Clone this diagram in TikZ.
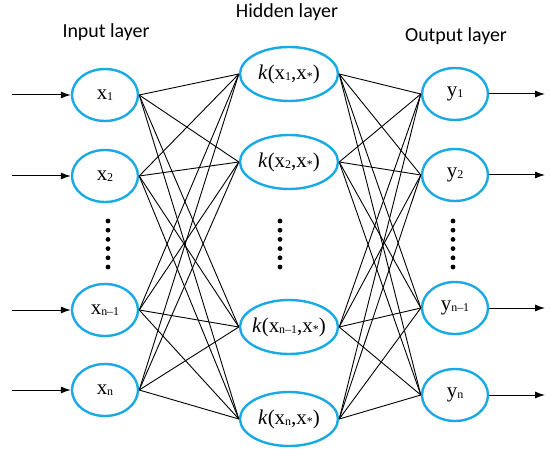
\documentclass[tikz,border=0pt]{standalone}
\usepackage{fontspec}
\setmainfont{Liberation Serif}
\newfontfamily\layerfont{Carlito}
\usetikzlibrary{shapes.geometric,arrows.meta}
\definecolor{nblue}{RGB}{25,170,230}
\newcommand\lsub[1]{\raisebox{-1bp}{\fontsize{12}{12}\selectfont #1}}
\begin{document}
\begin{tikzpicture}[x=1bp,y=-1bp,
  neuron/.style={ellipse, draw=nblue, line width=2.4bp, inner sep=0pt,
     minimum width=66bp, minimum height=52bp},
  hneuron/.style={neuron, minimum width=98bp, minimum height=54bp},
  every label/.append style={font=\fontsize{21}{23}\selectfont, inner sep=0pt},
  link/.style={draw=black, line width=0.9bp},
  arr/.style={draw=black, line width=1bp, -{Latex[length=10bp,width=7bp]}},
  layer/.style={font=\layerfont\fontsize{20}{22}\selectfont, anchor=base},
  dotc/.style={circle, fill=black, inner sep=0pt, minimum size=4.8bp}
]
\useasboundingbox (0,0) rectangle (550,453);
\fill[white] (0,0) rectangle (550,453);

% layer titles
\node[layer] (tin) at (106,38) {Input layer};
\node[layer] (thid) at (287,18) {Hidden layer};
\node[layer] (tout) at (456,42) {Output layer};

% input layer
\node[neuron, label={[name=lx1]center:x\lsub{1}}] (x1) at (105,95) {};
\node[neuron, label={[name=lx2]center:x\lsub{2}}] (x2) at (105,176) {};
\node[neuron, label={[name=lxm]center:x\lsub{n\textendash1}}] (xm) at (105,310) {};
\node[neuron, label={[name=lxn]center:x\lsub{n}}] (xn) at (105,390) {};

% hidden layer
\node[hneuron, label={[name=lh1]center:\textit{k}(x\lsub{1},x\lsub{*})}] (h1) at (289,74) {};
\node[hneuron, label={[name=lh2]center:\textit{k}(x\lsub{2},x\lsub{*})}] (h2) at (289,162) {};
\node[hneuron, label={[name=lhm]center:\textit{k}(x\lsub{n\textendash1},x\lsub{*})}] (hm) at (289,327) {};
\node[hneuron, label={[name=lhn]center:\textit{k}(x\lsub{n},x\lsub{*})}] (hn) at (289,419) {};

% output layer
\node[neuron, label={[name=ly1]center:y\lsub{1}}] (y1) at (455,94) {};
\node[neuron, label={[name=ly2]center:y\lsub{2}}] (y2) at (455,175) {};
\node[neuron, label={[name=lym]center:y\lsub{n\textendash1}}] (ym) at (455,308) {};
\node[neuron, label={[name=lyn]center:y\lsub{n}}] (yn) at (455,395) {};

% connections
\foreach \a in {x1,x2,xm,xn}
  \foreach \b in {h1,h2,hm,hn}
    \draw[link] (\a.east) -- (\b.west);
\foreach \a in {h1,h2,hm,hn}
  \foreach \b in {y1,y2,ym,yn}
    \draw[link] (\a.east) -- (\b.west);

% input / output arrows
\foreach \n/\yy in {x1/95,x2/176,xm/310,xn/390} {
  \coordinate (in-\n) at (12,\yy);
  \draw[arr] (in-\n) -- (\n.west);
}
\foreach \n/\yy in {y1/94,y2/175,ym/308,yn/395} {
  \coordinate (out-\n) at (545,\yy);
  \draw[arr] (\n.east) -- (out-\n);
}

% ellipsis dots
\foreach \i in {0,...,5} {
  \node[dotc] (di\i) at (108,221+9.2*\i) {};
  \node[dotc] (dh\i) at (280,221+9.2*\i) {};
  \node[dotc] (do\i) at (453,221+9.2*\i) {};
}
\end{tikzpicture}
\end{document}
